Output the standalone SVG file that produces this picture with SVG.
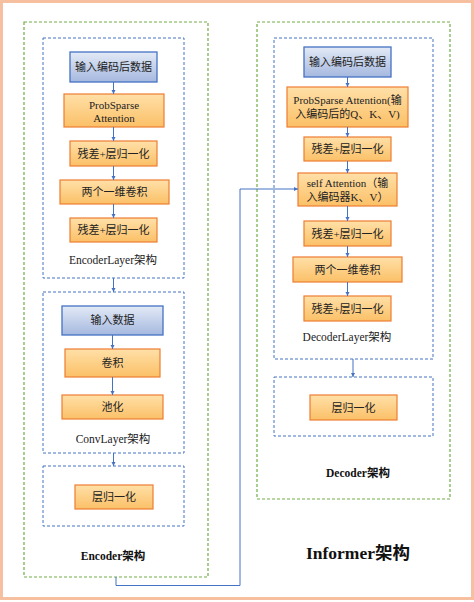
<svg xmlns="http://www.w3.org/2000/svg" width="474" height="602" viewBox="0 0 474 602">
<style>
.green{fill:none;stroke:#70AD47;stroke-width:1.2;stroke-dasharray:3,2}
.blue{fill:none;stroke:#4472C4;stroke-width:1;stroke-dasharray:3,2}
.on{fill:url(#og);stroke:#ED7D31;stroke-width:1.2}
.bn{fill:url(#bg);stroke:#4472C4;stroke-width:1.3}
.t{font-family:"Liberation Serif","Noto Sans CJK SC",serif;font-size:11px;fill:#222;text-anchor:middle}
.lbl{font-family:"Liberation Serif","Noto Sans CJK SC",serif;font-size:11.5px;fill:#222;text-anchor:middle}
.bold{font-family:"Liberation Serif","Noto Sans CJK SC",serif;font-size:11.5px;font-weight:bold;fill:#111;text-anchor:middle}
.conn{fill:none;stroke:#4472C4;stroke-width:1}
</style>
<defs>
<linearGradient id="og" x1="0" y1="0" x2="0" y2="1"><stop offset="0" stop-color="#FFE0A8"/><stop offset="1" stop-color="#FBC067"/></linearGradient>
<linearGradient id="bg" x1="0" y1="0" x2="0" y2="1"><stop offset="0" stop-color="#E3EAF6"/><stop offset="1" stop-color="#A5B8DF"/></linearGradient>
<marker id="ar" viewBox="0 0 6 6" refX="6" refY="3" markerWidth="4.5" markerHeight="4.5" orient="auto"><path d="M0,0 L6,3 L0,6 z" fill="#4472C4"/></marker>
</defs>
<rect x="0" y="0" width="474" height="602" fill="#fff"/>
<rect x="1.5" y="1.5" width="471" height="597" fill="none" stroke="#F6C0A0" stroke-width="3"/>

<g id="encoder">
<rect class="green" x="24" y="22" width="184" height="555"/>
<text class="bold" x="113" y="560">Encoder架构</text>
</g>
<g id="encoderlayer">
<rect class="blue" x="43" y="38" width="141" height="240"/>
<text class="lbl" x="113" y="264">EncoderLayer架构</text>
</g>
<g id="convlayer">
<rect class="blue" x="43" y="292" width="141" height="161"/>
<text class="lbl" x="113" y="443">ConvLayer架构</text>
</g>
<g id="enc-normbox">
<rect class="blue" x="43" y="466" width="141" height="60"/>
</g>
<g id="decoder">
<rect class="green" x="257" y="22" width="193" height="477"/>
<text class="bold" x="358" y="477">Decoder架构</text>
</g>
<g id="decoderlayer">
<rect class="blue" x="274" y="38" width="159" height="321"/>
<text class="lbl" x="347" y="341">DecoderLayer架构</text>
</g>
<g id="dec-normbox">
<rect class="blue" x="274" y="377" width="159" height="59"/>
</g>

<g id="e1"><rect class="bn" x="70" y="52" width="87" height="30"/><text class="t" x="113.5" y="71">输入编码后数据</text></g>
<g id="e2"><rect class="on" x="64" y="94" width="100" height="33"/><text class="t" x="114" y="109">ProbSparse</text><text class="t" x="114" y="122">Attention</text></g>
<g id="e3"><rect class="on" x="70" y="141" width="87" height="25"/><text class="t" x="113.5" y="157.5">残差+层归一化</text></g>
<g id="e4"><rect class="on" x="60" y="180" width="109" height="24"/><text class="t" x="114.5" y="196">两个一维卷积</text></g>
<g id="e5"><rect class="on" x="70" y="218" width="87" height="24"/><text class="t" x="113.5" y="234">残差+层归一化</text></g>
<g id="c1"><rect class="bn" x="62" y="306" width="101" height="29"/><text class="t" x="112.5" y="324">输入数据</text></g>
<g id="c2"><rect class="on" x="65" y="349" width="95" height="28"/><text class="t" x="112.5" y="367">卷积</text></g>
<g id="c3"><rect class="on" x="62" y="395" width="101" height="24"/><text class="t" x="112.5" y="411">池化</text></g>
<g id="en"><rect class="on" x="75" y="485" width="78" height="24"/><text class="t" x="114" y="501">层归一化</text></g>

<g id="d1"><rect class="bn" x="304" y="47" width="87" height="30"/><text class="t" x="347.5" y="66">输入编码后数据</text></g>
<g id="d2"><rect class="on" x="287" y="87" width="121" height="40"/><text class="t" x="347.5" y="104">ProbSparse Attention(输</text><text class="t" x="347.5" y="118">入编码后的Q、K、V)</text></g>
<g id="d3"><rect class="on" x="304" y="137" width="87" height="24"/><text class="t" x="347.5" y="153">残差+层归一化</text></g>
<g id="d4"><rect class="on" x="298" y="173" width="99" height="33"/><text class="t" x="347.5" y="187">self Attention（输</text><text class="t" x="347.5" y="201">入编码器K、V）</text></g>
<g id="d5"><rect class="on" x="304" y="221" width="87" height="25"/><text class="t" x="347.5" y="237.5">残差+层归一化</text></g>
<g id="d6"><rect class="on" x="293" y="257" width="109" height="25"/><text class="t" x="347.5" y="273.5">两个一维卷积</text></g>
<g id="d7"><rect class="on" x="304" y="296" width="87" height="25"/><text class="t" x="347.5" y="312.5">残差+层归一化</text></g>
<g id="dn"><rect class="on" x="310" y="395" width="87" height="25"/><text class="t" x="353.5" y="411.5">层归一化</text></g>

<g id="title"><text x="358" y="559" font-family="'Liberation Serif','Noto Sans CJK SC',serif" font-size="17.5" font-weight="bold" fill="#111" text-anchor="middle">Informer架构</text></g>

<g id="connectors">
<line class="conn" x1="113.5" y1="82" x2="113.5" y2="94" marker-end="url(#ar)"/>
<line class="conn" x1="113.5" y1="127" x2="113.5" y2="141" marker-end="url(#ar)"/>
<line class="conn" x1="113.5" y1="166" x2="113.5" y2="180" marker-end="url(#ar)"/>
<line class="conn" x1="113.5" y1="204" x2="113.5" y2="218" marker-end="url(#ar)"/>
<line class="conn" x1="113.5" y1="278" x2="113.5" y2="292" marker-end="url(#ar)"/>
<line class="conn" x1="112.5" y1="335" x2="112.5" y2="349" marker-end="url(#ar)"/>
<line class="conn" x1="112.5" y1="377" x2="112.5" y2="395" marker-end="url(#ar)"/>
<line class="conn" x1="113.5" y1="453" x2="113.5" y2="466" marker-end="url(#ar)"/>
<polyline class="conn" points="116,577 116,585.5 240,585.5 240,189 298,189" marker-end="url(#ar)"/>
<line class="conn" x1="347.5" y1="77" x2="347.5" y2="87" marker-end="url(#ar)"/>
<line class="conn" x1="347.5" y1="127" x2="347.5" y2="137" marker-end="url(#ar)"/>
<line class="conn" x1="347.5" y1="161" x2="347.5" y2="173" marker-end="url(#ar)"/>
<line class="conn" x1="347.5" y1="206" x2="347.5" y2="221" marker-end="url(#ar)"/>
<line class="conn" x1="347.5" y1="246" x2="347.5" y2="257" marker-end="url(#ar)"/>
<line class="conn" x1="347.5" y1="282" x2="347.5" y2="296" marker-end="url(#ar)"/>
<line class="conn" x1="353" y1="359" x2="353" y2="377" marker-end="url(#ar)"/>
</g>
</svg>
